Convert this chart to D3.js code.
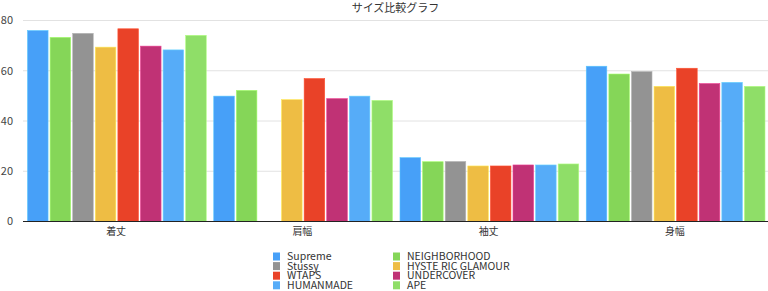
<!DOCTYPE html>
<meta charset="utf-8">
<script src="https://d3js.org/d3.v7.min.js"></script>
<style>
  body { margin: 0; background: #fff; }
  text { font-family: "Noto Sans CJK JP", "Liberation Sans", sans-serif; }
</style>
<div id="vis"></div>
<script>

var categories = ["着丈", "肩幅", "袖丈", "身幅"];
var brands = ["Supreme", "NEIGHBORHOOD", "Stussy", "HYSTE RIC GLAMOUR", "WTAPS", "UNDERCOVER", "HUMANMADE", "APE"];
var colors = ["#47a0f8", "#85d658", "#939393", "#eebd44", "#e94228", "#c03275", "#56acf8", "#8fde68"];
// values per brand, in category order (null = no data)
var supreme     = [76.0, 49.9, 25.4, 61.8];
var neighborhood= [73.3, 52.2, 23.8, 58.7];
var stussy      = [74.9, null, 23.9, 59.7];
var hysteric    = [69.4, 48.5, 22.1, 53.8];
var wtaps       = [76.7, 56.9, 22.1, 61.0];
var undercover  = [69.8, 48.9, 22.5, 54.9];
var humanmade   = [68.3, 49.9, 22.5, 55.4];
var ape         = [74.1, 48.2, 22.9, 53.8];
var series = [supreme, neighborhood, stussy, hysteric, wtaps, undercover, humanmade, ape];
var yTicks = [0, 20, 40, 60, 80];
var legendOrder = ["Supreme", "Stussy", "WTAPS", "HUMANMADE", "NEIGHBORHOOD", "HYSTE RIC GLAMOUR", "UNDERCOVER", "APE"];

var width = 768, height = 291;
var margin = {top: 20, right: 0, bottom: 70, left: 23};
var w = width - margin.left - margin.right,
    h = height - margin.top - margin.bottom;

var root = d3.select("#vis").append("svg")
  .attr("width", width)
  .attr("height", height);

root.append("text")
  .attr("x", margin.left + w / 2)
  .attr("y", 12)
  .attr("text-anchor", "middle")
  .attr("font-size", 11)
  .attr("fill", "#333")
  .text("サイズ比較グラフ");

var svg = root.append("g")
  .attr("transform", "translate(" + margin.left + "," + (margin.top + 0.5) + ")");

var x0 = d3.scaleBand().domain(categories).range([0, w]);
var x1 = d3.scaleBand().domain(brands).range([4.5, x0.bandwidth() - 3]).paddingInner(0.09);
var y = d3.scaleLinear().domain([0, 80]).range([h, 0]);

// gridlines
svg.append("g").selectAll("line").data(yTicks.filter(function(d) { return d > 0; }))
  .enter().append("line")
    .attr("x1", 0).attr("x2", w)
    .attr("y1", function(d) { return y(d); })
    .attr("y2", function(d) { return y(d); })
    .attr("stroke", "#e2e2e2")
    .attr("stroke-width", 1);

// y labels
svg.append("g").selectAll("text").data(yTicks)
  .enter().append("text")
    .attr("x", -10)
    .attr("y", function(d) { return y(d); })
    .attr("dy", "0.35em")
    .attr("text-anchor", "end")
    .attr("font-family", "Liberation Sans, sans-serif")
    .attr("font-size", 11)
    .attr("fill", "#444")
    .text(function(d) { return d; });

// bars
var groups = svg.append("g").selectAll("g").data(categories)
  .enter().append("g")
    .attr("transform", function(d) { return "translate(" + x0(d) + ",0)"; });

groups.selectAll("rect")
  .data(function(c, ci) {
    return brands.map(function(b, bi) { return {brand: b, value: series[bi][ci], color: colors[bi]}; })
      .filter(function(d) { return d.value != null; });
  })
  .enter().append("rect")
    .attr("x", function(d) { return x1(d.brand); })
    .attr("y", function(d) { return y(d.value); })
    .attr("width", x1.bandwidth())
    .attr("height", function(d) { return h - y(d.value); })
    .attr("fill", function(d) { return d.color; })
    .attr("stroke", function(d) { return d3.color(d.color).brighter(0.6); })
    .attr("stroke-width", 0.6);

// baseline
svg.append("line")
  .attr("x1", 0).attr("x2", w)
  .attr("y1", h).attr("y2", h)
  .attr("stroke", "#222")
  .attr("stroke-width", 1.2);

// category labels
svg.append("g").selectAll("text").data(categories)
  .enter().append("text")
    .attr("x", function(d) { return x0(d) + x0.bandwidth() / 2; })
    .attr("y", h + 13)
    .attr("text-anchor", "middle")
    .attr("font-size", 10)
    .attr("fill", "#333")
    .text(function(d) { return d; });

// legend
var legend = root.append("g").selectAll("g").data(legendOrder)
  .enter().append("g")
    .attr("transform", function(d, i) {
      var col = Math.floor(i / 4), row = i % 4;
      return "translate(" + (273 + col * 120) + "," + (252.5 + row * 9.6) + ")";
    });

legend.append("rect")
  .attr("width", 7)
  .attr("height", 8)
  .attr("fill", function(d) { return colors[brands.indexOf(d)]; });

legend.append("text")
  .attr("x", 14)
  .attr("y", 4)
  .attr("dy", "0.36em")
  .attr("font-family", "Liberation Sans, sans-serif")
  .attr("font-size", 10.5)
  .attr("fill", "#333")
  .text(function(d) { return d; });

</script>
